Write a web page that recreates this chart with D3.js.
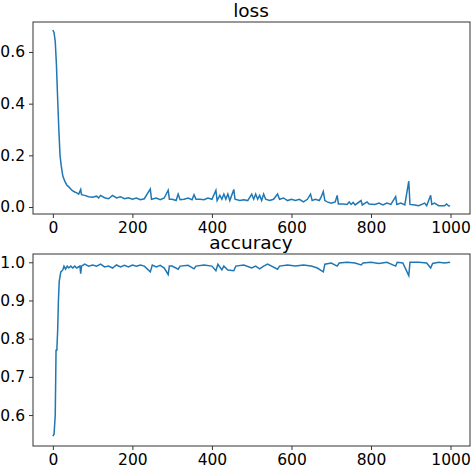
<!DOCTYPE html>
<html><head><meta charset="utf-8">
<script src="https://cdn.jsdelivr.net/npm/d3@7"></script>
<style>body{margin:0;background:#fff}text{font-family:"DejaVu Sans",sans-serif}</style>
</head><body><svg id="c" width="474" height="471"></svg>
<script>
// loss curve
const lossX = [0,3,6,9,12,15,18,21,25,30,35,40,45,50,55,60,65,70,72,80,90,100,110,115,120,130,140,150,160,170,180,190,200,210,220,230,245,248,260,270,280,290,293,300,310,315,320,330,340,350,355,360,370,380,390,400,410,413,420,425,430,435,440,445,455,458,470,480,490,500,505,510,515,520,525,530,535,545,555,565,570,580,590,600,610,620,630,640,648,652,660,670,675,680,684,690,700,710,715,718,730,740,745,750,755,760,775,778,790,795,810,820,830,840,850,862,865,875,885,895,898,910,920,935,940,950,953,960,970,985,990,995,999];
const lossY = [0.685,0.675,0.64,0.55,0.42,0.3,0.2,0.16,0.12,0.1,0.085,0.078,0.07,0.062,0.058,0.055,0.05,0.068,0.048,0.045,0.04,0.038,0.042,0.035,0.045,0.036,0.032,0.045,0.035,0.04,0.032,0.036,0.03,0.035,0.028,0.032,0.07,0.03,0.035,0.028,0.035,0.065,0.03,0.03,0.025,0.05,0.028,0.03,0.035,0.028,0.048,0.03,0.03,0.028,0.035,0.03,0.065,0.025,0.045,0.03,0.05,0.03,0.05,0.025,0.068,0.03,0.025,0.028,0.025,0.05,0.03,0.05,0.03,0.045,0.025,0.05,0.03,0.025,0.03,0.05,0.03,0.035,0.025,0.03,0.025,0.03,0.02,0.03,0.05,0.025,0.03,0.025,0.04,0.06,0.025,0.02,0.015,0.02,0.045,0.012,0.012,0.01,0.02,0.01,0.018,0.008,0.025,0.008,0.02,0.012,0.01,0.015,0.008,0.015,0.01,0.04,0.01,0.015,0.008,0.1,0.01,0.008,0.005,0.015,0.005,0.045,0.01,0.015,0.005,0.005,0.012,0.005,0.004];
// accuracy curve
const accX = [0,3,6,8,10,12,14,16,20,25,28,32,36,40,45,50,55,60,68,70,72,80,90,100,110,120,130,140,150,160,170,180,190,200,210,220,230,245,250,260,270,280,290,293,300,315,320,340,355,360,380,400,410,415,425,430,440,455,460,480,500,510,520,530,540,565,570,590,610,630,650,665,680,684,700,715,720,740,760,775,780,800,820,840,862,866,880,895,898,920,940,950,955,970,985,999];
const accY = [0.545,0.55,0.6,0.77,0.77,0.82,0.9,0.95,0.975,0.98,0.99,0.982,0.99,0.985,0.99,0.985,0.99,0.985,0.99,0.97,0.99,0.995,0.99,0.993,0.99,0.995,0.988,0.99,0.985,0.993,0.988,0.992,0.988,0.993,0.99,0.993,0.99,0.975,0.993,0.988,0.992,0.985,0.968,0.99,0.99,0.982,0.99,0.992,0.983,0.99,0.993,0.99,0.978,0.995,0.98,0.99,0.98,0.978,0.99,0.993,0.985,0.99,0.983,0.99,0.995,0.982,0.99,0.993,0.99,0.993,0.99,0.985,0.975,0.995,0.998,0.99,0.998,1.0,0.998,0.993,0.998,1.0,0.997,1.0,0.99,1.0,0.998,0.965,1.0,1.0,0.998,0.985,0.997,1.0,0.998,1.0];
const xTicks = [0,200,400,600,800,1000];

const svg = d3.select('#c');
const color = '#1f77b4';

function panel(top, bottom, title, xs, ys, yDomain, yTicks, fmt) {
  const x = d3.scaleLinear().domain([-49.95, 1048.95]).range([33, 470]);
  const y = d3.scaleLinear().domain(yDomain).range([bottom, top]);
  const g = svg.append('g');
  g.append('path')
    .datum(xs.map((v, i) => [v, ys[i]]))
    .attr('fill', 'none').attr('stroke', color).attr('stroke-width', 1.5)
    .attr('d', d3.line().x(d => x(d[0])).y(d => y(d[1])));
  g.append('rect').attr('x', 33).attr('y', top).attr('width', 437).attr('height', bottom - top)
    .attr('fill', 'none').attr('stroke', '#333').attr('stroke-width', 1);
  const xa = g.append('g').attr('transform', `translate(0,${bottom})`)
    .call(d3.axisBottom(x).tickValues(xTicks).tickFormat(d3.format('d')).tickSize(4).tickPadding(4));
  const ya = g.append('g').attr('transform', 'translate(33,0)')
    .call(d3.axisLeft(y).tickValues(yTicks).tickFormat(fmt).tickSize(4).tickPadding(4));
  [xa, ya].forEach(a => {
    a.select('.domain').remove();
    a.selectAll('text').attr('font-size', 15.5).attr('fill', '#000').style('font-family', '"DejaVu Sans"');
    a.selectAll('line').attr('stroke', '#333');
  });
  g.append('text').attr('x', 251).attr('y', top - 5).attr('text-anchor', 'middle')
    .attr('font-size', 18.5).text(title);
}

panel(22, 214, 'loss', lossX, lossY, [-0.027, 0.716], [0, 0.2, 0.4, 0.6], d3.format('.1f'));
panel(254, 446, 'accuracy', accX, accY, [0.519, 1.0217], [0.6, 0.7, 0.8, 0.9, 1.0], d3.format('.1f'));
</script></body></html>
